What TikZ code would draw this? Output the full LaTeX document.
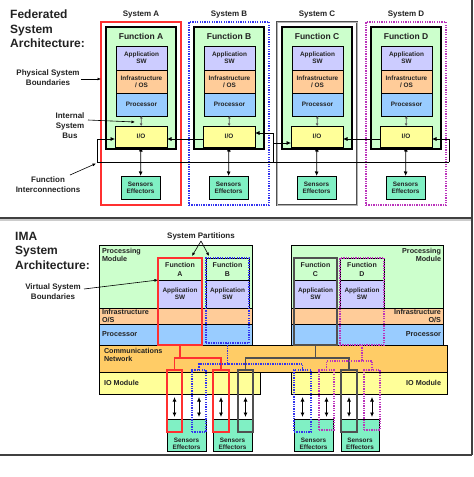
\documentclass[tikz,border=0pt]{standalone}
\usepackage{fontspec}
\setmainfont{Liberation Sans}
\usetikzlibrary{arrows.meta,calc}
\definecolor{cgreen}{HTML}{CCFFCC}
\definecolor{clav}{HTML}{CCCCFF}
\definecolor{corange}{HTML}{FFCC99}
\definecolor{cblue}{HTML}{99CCFF}
\definecolor{cyellow}{HTML}{FFFF99}
\definecolor{cteal}{HTML}{80F0C4}
\definecolor{ccomm}{HTML}{FFCC66}
\definecolor{cred}{HTML}{FF3030}
\definecolor{cbluel}{HTML}{3333EE}
\definecolor{cpink}{HTML}{BB33BB}
\definecolor{cdark}{HTML}{505050}
\definecolor{cframe}{HTML}{404040}
\definecolor{ctxt}{HTML}{222222}
\newcommand{\smf}{\bfseries\fontsize{6.4}{7.4}\selectfont}
\newcommand{\rowf}{\bfseries\fontsize{7.2}{8.2}\selectfont}
\newcommand{\labf}{\bfseries\fontsize{8}{10}\selectfont}
\newcommand{\titf}{\bfseries\fontsize{12}{14.3}\selectfont}
\newcommand{\bx}[7]{\node[#2,anchor=north west,minimum width={(#5-(#3))*1pt},minimum height={(#6-(#4))*1pt}] (#1) at (#3,#4) {#7};}
\newcommand{\fedsys}[3]{%
 \bx{sys#1}{#3}{#2}{22}{#2+80}{205}{}
 \node[lab] (sl#1) at (#2+40,15) {System #1};
 \bx{fn#1}{box,fill=cgreen,line width=1.2pt}{#2+5}{27}{#2+75}{149}{}
 \node[fnlab] (fl#1) at (#2+40,36) {Function #1};
 \bx{app#1}{box,fill=clav}{#2+15}{46}{#2+66}{70}{Application\\SW}
 \bx{inf#1}{box,fill=corange}{#2+15}{70}{#2+66}{93}{Infrastructure\\/ OS}
 \bx{proc#1}{box,fill=cblue}{#2+15}{93}{#2+66}{116}{Processor}
 \bx{io#1}{box,fill=cyellow}{#2+14}{126}{#2+66}{147}{I/O}
 \bx{sen#1}{box,fill=cteal}{#2+20}{176}{#2+59}{199}{Sensors\\Effectors}
 \draw[busarr] (proc#1) -- (io#1);
 \draw[dblarr] (io#1) -- (sen#1);
}
\begin{document}
\begin{tikzpicture}[x=1pt,y=-1pt,
 box/.style={draw=black,line width=0.8pt,inner sep=0pt,outer sep=0pt,align=center,font=\smf,text=ctxt},
 rowlab/.style={inner sep=0pt,outer sep=0pt,font=\rowf,text=ctxt},
 lab/.style={font=\labf,text=ctxt,align=center,inner sep=0pt},
 fnlab/.style={font=\bfseries\fontsize{8.5}{10}\selectfont,text=ctxt,inner sep=0pt},
 imafn/.style={font=\bfseries\fontsize{7}{9}\selectfont},
 title/.style={font=\titf,text=ctxt,align=left,inner sep=0pt,anchor=north west},
 outl/.style={inner sep=0pt,outer sep=0pt},
 dots/.style={dash pattern=on 1.3pt off 1.1pt},
 sysA/.style={outl,draw=cred,line width=1.3pt},
 sysB/.style={outl,draw=cbluel,line width=1.6pt,dots},
 sysC/.style={outl,draw=cdark,line width=0.8pt,double=gray!60,double distance=0.8pt},
 sysD/.style={outl,draw=cpink,line width=1.6pt,dots},
 redbox/.style={outl,draw=cred,line width=1.4pt},
 bluebox/.style={outl,draw=cbluel,line width=1.5pt,dots},
 darkbox/.style={outl,draw=cdark,line width=1.4pt},
 pinkbox/.style={outl,draw=cpink,line width=1.5pt,dots},
 redl/.style={draw=cred,line width=1.4pt},
 bluel/.style={draw=cbluel,line width=1.5pt,dots},
 darkl/.style={draw=cdark,line width=1.4pt},
 pinkl/.style={draw=cpink,line width=1.5pt,dots},
 busarr/.style={draw=gray!70!black,line width=0.6pt,{Latex[length=2.5pt,width=3pt]}-{Latex[length=2.5pt,width=3pt]}},
 dblarr/.style={draw=black,line width=0.8pt,{Latex[length=4.5pt,width=4pt]}-{Latex[length=4.5pt,width=4pt]}},
 arr/.style={draw=black,line width=0.7pt,-{Latex[length=4.5pt,width=4pt]}},
 pt/.style={draw=black,line width=0.6pt,-{Latex[length=3.5pt,width=3pt]}},
 frame/.style={draw=cframe,line width=1.6pt}
]
\useasboundingbox (0,0) rectangle (474,477);
% frame
\draw[draw=gray!40,line width=1.2pt] (0,220) -- (472,220);
\draw[frame] (0,218) -- (472,218);
\draw[frame] (472,0) -- (472,455);
\draw[frame] (0,455) -- (472,455);

% ===== Federated =====
\node[title] (fedT) at (10,10) {Federated\\System\\Architecture:};
\fedsys{A}{101}{sysA}
\fedsys{B}{189}{sysB}
\fedsys{C}{277}{sysC}
\fedsys{D}{366}{sysD}

\coordinate (busL) at (97,162);
\coordinate (busR) at (449,162);
\coordinate (jBC) at (273,162);
\draw[line width=0.7pt] (busL) -- (busR);
\draw[arr] (busL) |- ($(ioA.west)+(0,2.5)$);
\draw[arr] (busR) |- ($(ioD.east)+(0,2.5)$);
\draw[arr] (jBC) |- ($(ioB.east)+(0,-3.5)$);
\draw[arr] (jBC) |- ($(ioC.west)+(0,6.5)$);
\draw[arr,{Latex[length=4.5pt,width=4pt]}-] ($(ioA.east)+(0,2.5)$) -- ($(ioB.west)+(0,2.5)$);
\draw[arr,{Latex[length=4.5pt,width=4pt]}-] ($(ioC.east)+(0,2.5)$) -- ($(ioD.west)+(0,2.5)$);

\node[lab] (physL) at (48,78) {Physical System\\Boundaries};
\draw[pt] ($(physL.east)+(1,1)$) -- (sysA.west |- 0,79);
\node[lab] (busLab) at (70,126) {Internal\\System\\Bus};
\coordinate (busPt) at (135,122);
\draw[pt] (88,120) -- (busPt);
\node[lab] (fiLab) at (48,185) {Function\\Interconnections};
\draw[pt] (70,175) -- ($(busL)+(-1,1.5)$);

% ===== IMA =====
\node[title] (imaT) at (15,232) {IMA\\System\\Architecture:};

% left processing module
\bx{pmL}{box,fill=cgreen}{99}{245}{252}{345}{}
\node[rowlab,align=left,anchor=north west] (pmLt) at (102,248) {Processing\\Module};
\bx{infL}{box,fill=corange}{99}{308}{252}{324}{}
\node[rowlab,align=left,anchor=north west] (infLt) at (102,309.5) {Infrastructure\\O/S};
\bx{procL}{box,fill=cblue}{99}{324}{252}{345}{}
\node[rowlab,anchor=west] (procLt) at (102,334) {Processor};
\bx{faT}{box,fill=cgreen,imafn}{158}{258}{202}{280}{Function\\A}
\bx{faApp}{box,fill=clav}{158}{280}{202}{308}{Application\\SW}
\bx{fbT}{box,fill=cgreen,imafn}{206}{258}{249}{280}{Function\\B}
\bx{fbApp}{box,fill=clav}{206}{280}{249}{308}{Application\\SW}

% right processing module
\bx{pmR}{box,fill=cgreen}{291}{245}{443}{345}{}
\node[rowlab,align=right,anchor=north east] (pmRt) at (441,248) {Processing\\Module};
\bx{infR}{box,fill=corange}{291}{308}{443}{324}{}
\node[rowlab,align=right,anchor=north east] (infRt) at (441,309.5) {Infrastructure\\O/S};
\bx{procR}{box,fill=cblue}{291}{324}{443}{345}{}
\node[rowlab,anchor=east] (procRt) at (441,334) {Processor};
\bx{fcT}{box,fill=cgreen,imafn}{294}{258}{337}{280}{Function\\C}
\bx{fcApp}{box,fill=clav}{294}{280}{337}{308}{Application\\SW}
\bx{fdT}{box,fill=cgreen,imafn}{340}{258}{384}{280}{Function\\D}
\bx{fdApp}{box,fill=clav}{340}{280}{384}{308}{Application\\SW}

% comm network and IO modules
\bx{comm}{box,fill=ccomm}{99}{345}{447}{372}{}
\node[rowlab,align=left,anchor=north west] (commt) at (104,348.5) {Communications\\Network};
\bx{ioL}{box,fill=cyellow}{99}{372}{260}{394}{}
\node[rowlab,anchor=west] (ioLt) at (104,383) {IO Module};
\bx{ioR}{box,fill=cyellow}{291}{372}{447}{394}{}
\node[rowlab,anchor=east] (ioRt) at (441,383) {IO Module};

% sensors
\bx{s1}{box,fill=cteal}{167}{419}{206}{451}{}
\bx{s2}{box,fill=cteal}{213}{419}{252}{451}{}
\bx{s3}{box,fill=cteal}{294}{419}{333}{451}{}
\bx{s4}{box,fill=cteal}{341}{419}{379}{451}{}
\foreach \s in {s1,s2,s3,s4}{
 \node[box,draw=none,anchor=south] (\s t) at ($(\s.south)+(0,-1)$) {Sensors\\Effectors};
}

% partitions
\bx{partA}{redbox}{158}{258}{202}{345}{}
\bx{partB}{bluebox}{206}{258}{249}{343}{}
\bx{partC}{darkbox}{294}{258}{337}{345}{}
\bx{partD}{pinkbox}{340}{258}{384}{345}{}

\bx{pA1}{redbox}{167}{370}{182}{432}{}
\bx{pA2}{redbox}{213}{370}{229}{432}{}
\bx{pB1}{bluebox}{192}{370}{206}{432}{}
\bx{pB2}{bluebox}{294}{370}{311}{432}{}
\bx{pC1}{darkbox}{238}{370}{253}{432}{}
\bx{pC2}{darkbox}{341}{370}{357}{432}{}
\bx{pD1}{pinkbox}{319}{370}{334}{430}{}
\bx{pD2}{pinkbox}{364}{370}{380}{430}{}

\coordinate (jA) at (180,358);
\coordinate (jB) at (227.5,364);
\coordinate (jC) at (315.5,358);
\coordinate (jD) at (362,361);
\draw[redl] (partA.south) -- (jA);
\draw[redl] (pA1.north) |- (jA) -| (pA2.north);
\draw[bluel] (partB.south) -- (jB);
\draw[bluel] (pB1.north) |- (jB) -| (pB2.north);
\draw[darkl] (partC.south) -- (jC);
\draw[darkl] (pC1.north) |- (jC) -| (pC2.north);
\draw[pinkl] (partD.south) -- (jD);
\draw[pinkl] (pD1.north) |- (jD) -| (pD2.north);

\foreach \p/\i/\s in {pA1/ioL/s1,pB1/ioL/s1,pA2/ioL/s2,pC1/ioL/s2,pB2/ioR/s3,pD1/ioR/s3,pC2/ioR/s4,pD2/ioR/s4}{
 \draw[dblarr] ($(\p.center|-\i.south)+(0,3)$) -- ($(\p.center|-\s.north)+(0,-2)$);
}

% IMA labels
\node[lab] (spLab) at (201,236) {System Partitions};
\draw[pt] (201,241) -- (192,256);
\draw[pt] (201,241) -- (209,256);
\node[lab] (vsLab) at (53,292) {Virtual System\\Boundaries};
\draw[pt] (84,289) -- (partA.west |- 0,280);
\end{tikzpicture}
\end{document}
